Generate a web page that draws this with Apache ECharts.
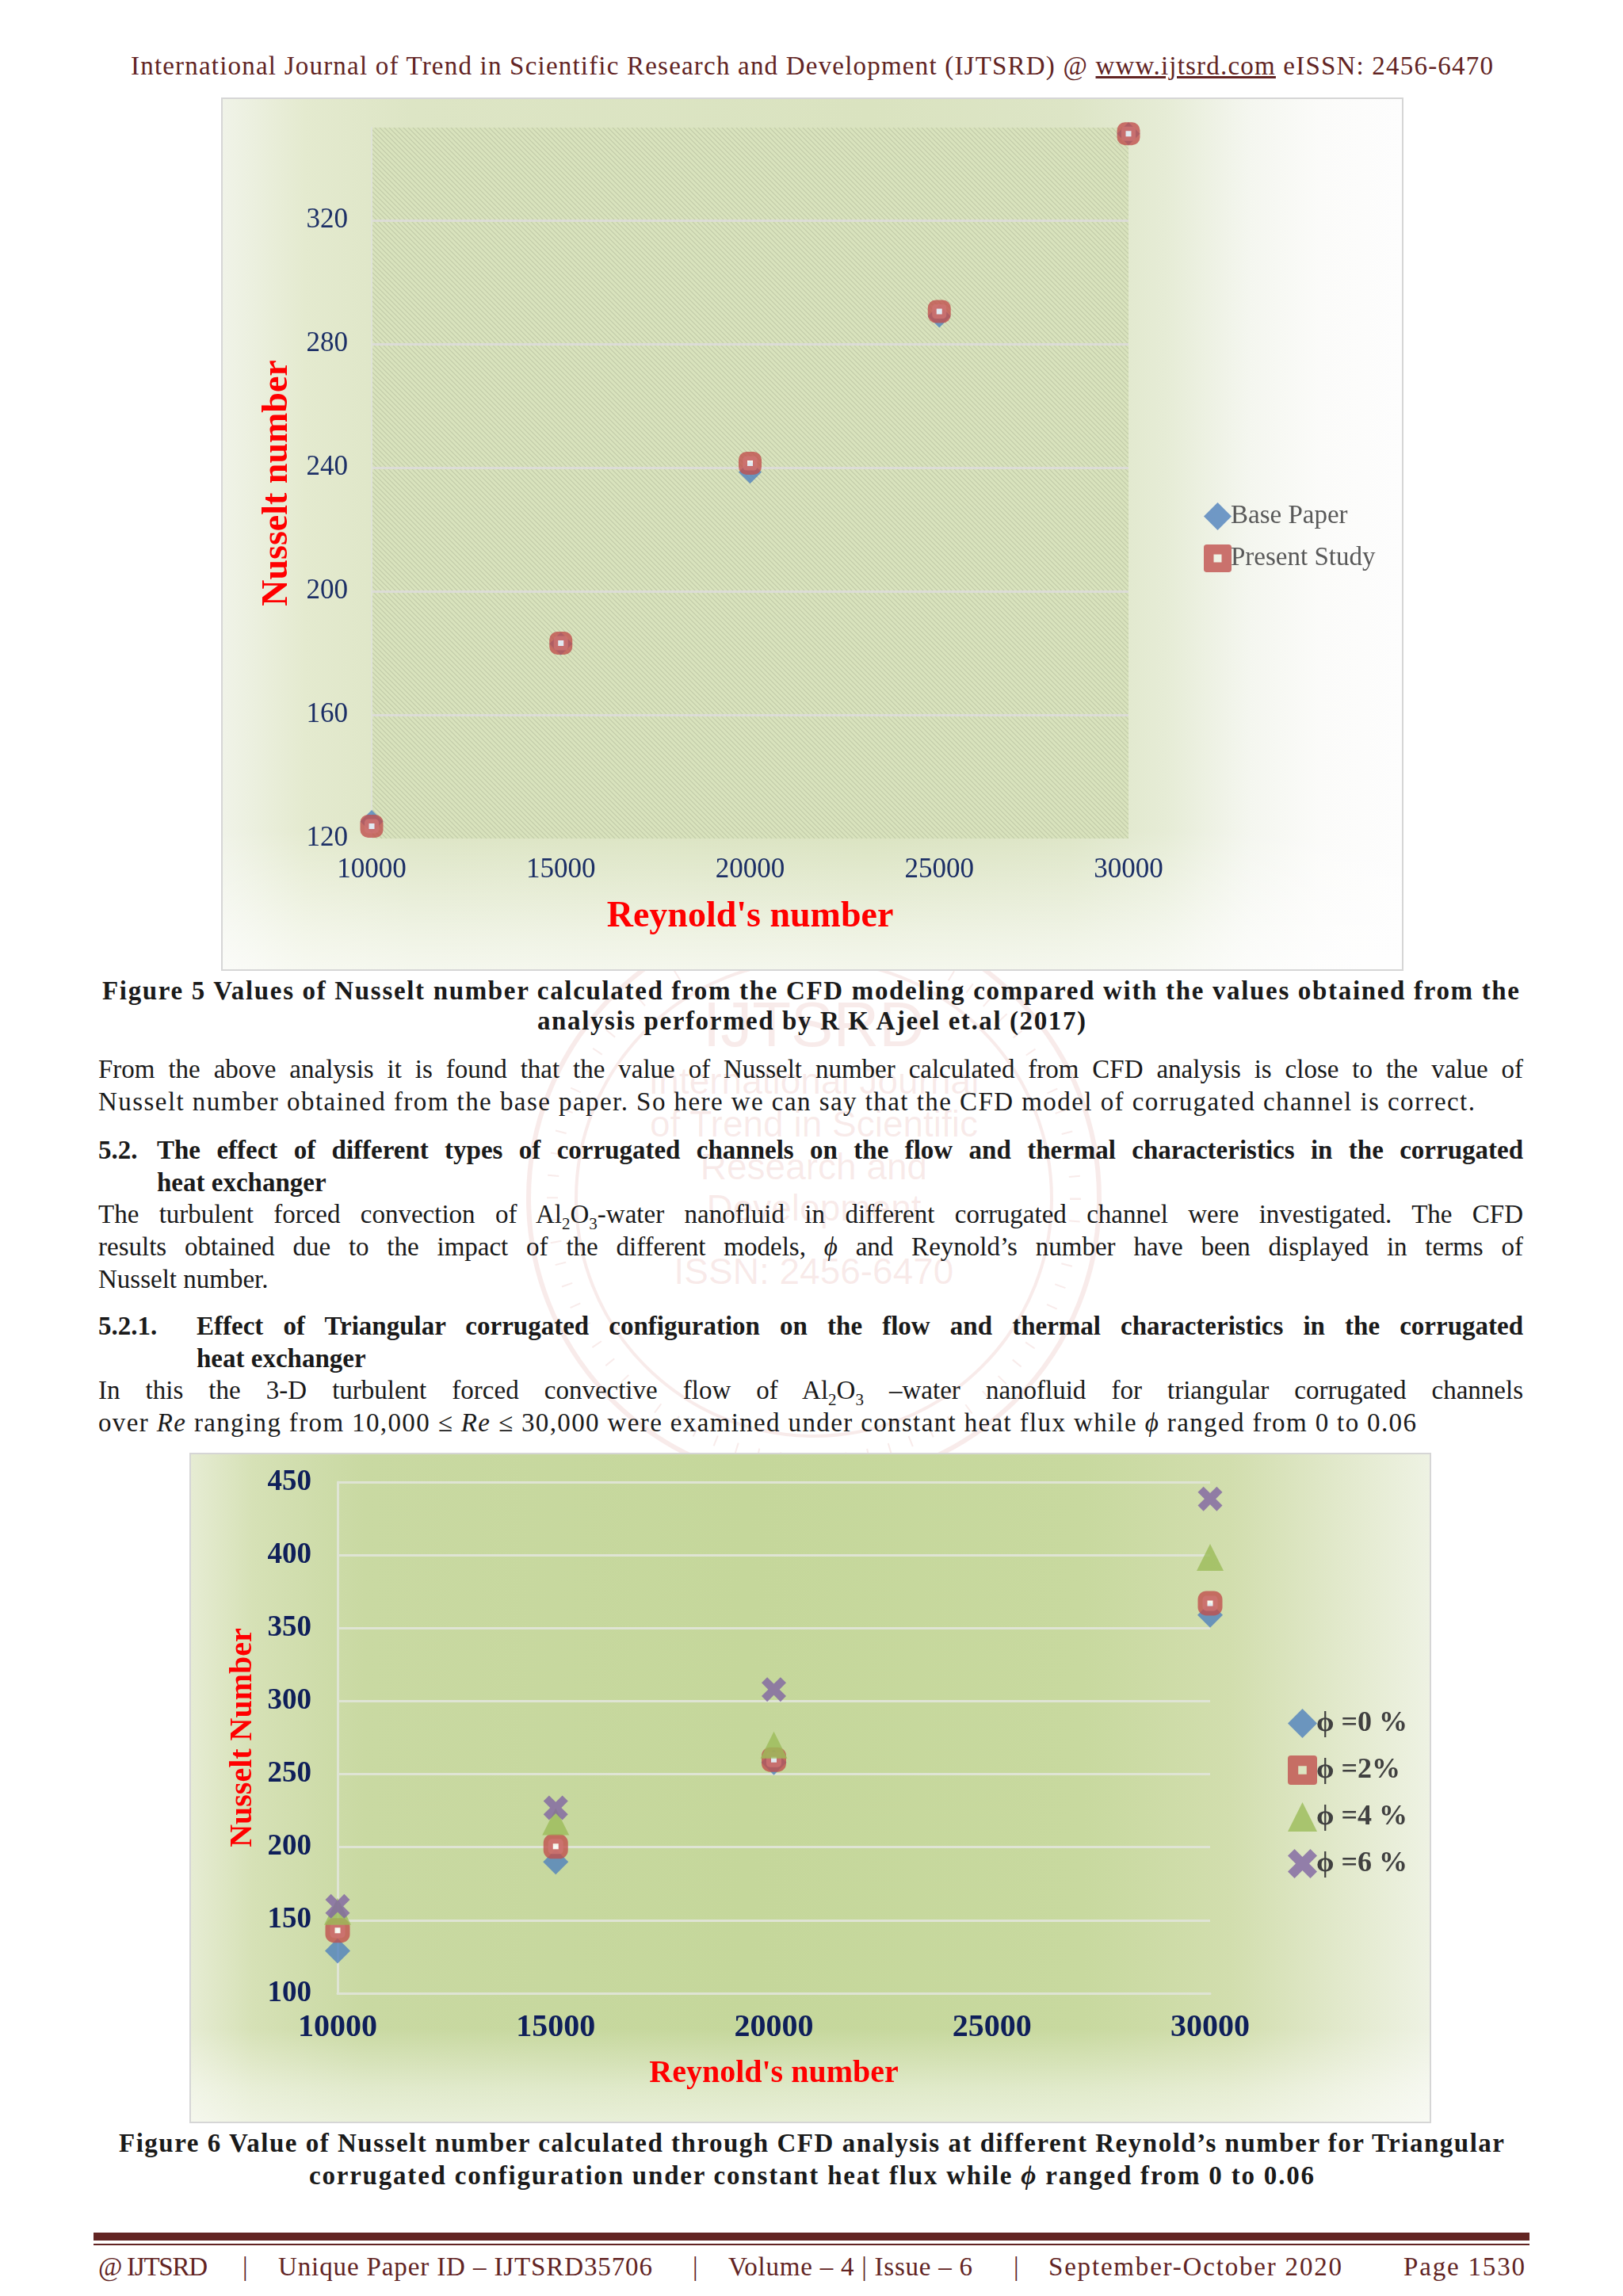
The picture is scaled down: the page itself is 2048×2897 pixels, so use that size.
<!DOCTYPE html>
<html>
<head>
<meta charset="utf-8">
<script src="https://cdn.jsdelivr.net/npm/echarts@6/dist/echarts.min.js"></script>
<style>
html,body{margin:0;padding:0;background:#fff;}
body{width:2048px;height:2897px;position:relative;overflow:hidden;font-family:"Liberation Serif","Times New Roman",serif;color:#1a1a1a;}
.ln{position:absolute;white-space:nowrap;font-size:33px;line-height:40px;height:40px;}
.b{font-weight:bold;}
.hdr{color:#622423;}
.frame{position:absolute;box-sizing:border-box;border:2px solid #d6d6d6;}
#c1{left:279px;top:123px;width:1492px;height:1102px;
 background:
  linear-gradient(to bottom, rgba(255,255,255,0) 0%, rgba(255,255,255,0) 84%, rgba(255,255,255,0.55) 96%, rgba(255,255,255,0.7) 100%),
  linear-gradient(to right,#f0f3e8 0%,#e4eacf 7%,#dde5c5 16%,#dae3c0 55%,#dde5c6 72%,#e6ecd6 80%,#f4f6ef 87%,#fbfbf9 93%,#fdfdfd 100%);}
#c2{left:239px;top:1833px;width:1567px;height:846px;
 background:
  linear-gradient(to bottom, rgba(255,255,255,0) 0%, rgba(255,255,255,0) 86%, rgba(255,255,255,0.45) 95%, rgba(255,255,255,0.6) 100%),
  linear-gradient(to right,#e6ecd3 0%,#d6e1b6 5%,#c9d9a2 14%,#c5d79b 45%,#c8d99f 72%,#d2deae 84%,#e2e9cc 93%,#eef2e3 100%);}
.chart{position:absolute;left:0;top:0;width:100%;height:100%;}
.rule{position:absolute;background:#632523;}
</style>
</head>
<body>
<!-- faint watermark -->
<svg style="position:absolute;left:0;top:0" width="2048" height="2897">
 <g fill="none" stroke="rgba(200,90,80,0.12)">
  <circle cx="1027" cy="1512" r="360" stroke-width="6"/>
  <circle cx="1027" cy="1512" r="300" stroke-width="4"/>
  <circle cx="1027" cy="1512" r="330" stroke-width="14" stroke-dasharray="2 26"/>
 </g>
 <g fill="rgba(200,90,80,0.12)" font-family="Liberation Sans, Arial, sans-serif" text-anchor="middle">
  <text x="1027" y="1320" font-size="80">IJTSRD</text>
  <text x="1027" y="1380" font-size="46">International Journal</text>
  <text x="1027" y="1434" font-size="46">of Trend in Scientific</text>
  <text x="1027" y="1488" font-size="46">Research and</text>
  <text x="1027" y="1540" font-size="46">Development</text>
  <text x="1027" y="1620" font-size="46">ISSN: 2456-6470</text>
 </g>
</svg>

<div class="ln hdr" data-x="165" data-y="83" data-w="1719" data-m="letter">International Journal of Trend in Scientific Research and Development (IJTSRD) @ <span style="text-decoration:underline">www.ijtsrd.com</span> eISSN: 2456-6470</div>

<div class="frame" id="c1"><div class="chart" id="chart1"></div></div>

<div class="ln b" data-x="129" data-y="1250" data-w="1788" data-m="letter">Figure 5 Values of Nusselt number calculated from the CFD modeling compared with the values obtained from the</div>
<div class="ln b" data-x="678" data-y="1288" data-w="692" data-m="letter">analysis performed by R K Ajeel et.al (2017)</div>

<div class="ln" data-x="124" data-y="1349" data-w="1798" data-m="word">From the above analysis it is found that the value of Nusselt number calculated from CFD analysis is close to the value of</div>
<div class="ln" data-x="124" data-y="1390" data-w="1737" data-m="letter">Nusselt number obtained from the base paper. So here we can say that the CFD model of corrugated channel is correct.</div>

<div class="ln b" data-x="124" data-y="1451">5.2.</div>
<div class="ln b" data-x="198" data-y="1451" data-w="1724" data-m="word">The effect of different types of corrugated channels on the flow and thermal characteristics in the corrugated</div>
<div class="ln b" data-x="198" data-y="1492">heat exchanger</div>

<div class="ln" data-x="124" data-y="1532" data-w="1798" data-m="word">The turbulent forced convection of Al<sub style="font-size:21px">2</sub>O<sub style="font-size:21px">3</sub>-water nanofluid in different corrugated channel were investigated. The CFD</div>
<div class="ln" data-x="124" data-y="1573" data-w="1798" data-m="word">results obtained due to the impact of the different models, <i>ϕ</i> and Reynold’s number have been displayed in terms of</div>
<div class="ln" data-x="124" data-y="1614">Nusselt number.</div>

<div class="ln b" data-x="124" data-y="1673">5.2.1.</div>
<div class="ln b" data-x="248" data-y="1673" data-w="1674" data-m="word">Effect of Triangular corrugated configuration on the flow and thermal characteristics in the corrugated</div>
<div class="ln b" data-x="248" data-y="1714">heat exchanger</div>

<div class="ln" data-x="124" data-y="1754" data-w="1798" data-m="word">In this the 3-D turbulent forced convective flow of Al<sub style="font-size:21px">2</sub>O<sub style="font-size:21px">3</sub> –water nanofluid for triangular corrugated channels</div>
<div class="ln" data-x="124" data-y="1795" data-w="1663" data-m="letter">over <i>Re</i> ranging from 10,000 ≤ <i>Re</i> ≤ 30,000 were examined under constant heat flux while <i>ϕ</i> ranged from 0 to 0.06</div>

<div class="frame" id="c2"><div class="chart" id="chart2"></div></div>

<div class="ln b" data-x="150" data-y="2704" data-w="1748" data-m="letter">Figure 6 Value of Nusselt number calculated through CFD analysis at different Reynold’s number for Triangular</div>
<div class="ln b" data-x="390" data-y="2745" data-w="1268" data-m="letter">corrugated configuration under constant heat flux while <i>ϕ</i> ranged from 0 to 0.06</div>

<div class="rule" style="left:118px;top:2817px;width:1812px;height:10px"></div>
<div class="rule" style="left:118px;top:2831px;width:1812px;height:2px"></div>

<div class="ln hdr" data-x="124" data-y="2860" data-w="138" data-m="letter">@ IJTSRD</div>
<div class="ln hdr" data-x="306" data-y="2860">|</div>
<div class="ln hdr" data-x="351" data-y="2860" data-w="472" data-m="letter">Unique Paper ID – IJTSRD35706</div>
<div class="ln hdr" data-x="874" data-y="2860">|</div>
<div class="ln hdr" data-x="919" data-y="2860" data-w="308" data-m="letter">Volume – 4 | Issue – 6</div>
<div class="ln hdr" data-x="1279" data-y="2860">|</div>
<div class="ln hdr" data-x="1323" data-y="2860" data-w="370" data-m="letter">September-October 2020</div>
<div class="ln hdr" data-x="1771" data-y="2860" data-w="153" data-m="letter">Page 1530</div>

<script>
// ---------------- DATA ----------------
// Figure 5
const fig5Reynolds = [10000, 15000, 20000, 25000, 30000];
const fig5BasePaper = [125.5, 183, 238.5, 289, 348];
const fig5PresentStudy = [124, 183.2, 241.4, 290.5, 348];
const fig5SeriesNames = ['Base Paper', 'Present Study'];
// Figure 6
const fig6Reynolds = [10000, 15000, 20000, 30000];
const fig6Phi0 = [129, 190, 258, 359];
const fig6Phi2 = [143, 200.5, 260, 367];
const fig6Phi4 = [156, 217.5, 270, 398.5];
const fig6Phi6 = [159.5, 227, 308, 438.5];
const fig6SeriesNames = ['ϕ =0 %', 'ϕ =2%', 'ϕ =4 %', 'ϕ =6 %'];

// ---------------- TEXT LAYOUT ----------------
function placeLines(){
  document.querySelectorAll('.ln').forEach(el=>{
    el.style.left = el.dataset.x + 'px';
    el.style.top = (+el.dataset.y - 20) + 'px';
    el.style.letterSpacing = '0px';
    el.style.wordSpacing = '0px';
    const w = +el.dataset.w;
    if(!w) return;
    const nat = el.getBoundingClientRect().width;
    const txt = el.textContent;
    if(el.dataset.m === 'word'){
      const n = (txt.match(/ /g)||[]).length;
      if(n>0) el.style.wordSpacing = ((w-nat)/n) + 'px';
    } else {
      const n = txt.length - 1;
      if(n>0) el.style.letterSpacing = ((w-nat)/n) + 'px';
    }
  });
}
placeLines();
if(document.fonts && document.fonts.ready) document.fonts.ready.then(placeLines);

function zip(xs, ys){ return xs.map((x,i)=>[x, ys[i]]); }

// hatch pattern for figure 5 plot area
const hatch = document.createElement('canvas');
hatch.width = 6; hatch.height = 6;
(function(){
  const g = hatch.getContext('2d');
  g.fillStyle = '#d9e3bd'; g.fillRect(0,0,6,6);
  g.strokeStyle = '#c0c9a8'; g.lineWidth = 1.1;
  g.beginPath();
  g.moveTo(-1,-1); g.lineTo(7,7);
  g.moveTo(-1,5); g.lineTo(1,7);
  g.moveTo(5,-1); g.lineTo(7,1);
  g.stroke();
})();

const FONT = 'Liberation Serif';
const RED = '#C0504D', BLUE = '#4F81BD', GREEN = '#9BBB59', PURPLE = '#8064A2';
const XPATH = 'path://M2.3,0L5,2.7L7.7,0L10,2.3L7.3,5L10,7.7L7.7,10L5,7.3L2.3,10L0,7.7L2.7,5L0,2.3Z';
const SQ_HOLE = 'path://M3,0H25Q28,0 28,3V25Q28,28 25,28H3Q0,28 0,25V3Q0,0 3,0ZM10,10V18H18V10Z';
const plainNum = v => String(v);

// ---------------- FIGURE 5 ----------------
const chart1 = echarts.init(document.getElementById('chart1'), null, {renderer:'canvas'});
chart1.setOption({
  backgroundColor: 'transparent',
  animation: false,
  grid: {left: 188, right: 345, top: 36, bottom: 165, show: true, borderWidth: 0,
         backgroundColor: {image: hatch, repeat: 'repeat'}},
  legend: {
    orient: 'vertical', left: 1233, top: 504, itemWidth: 35, itemHeight: 35, itemGap: 18,
    itemStyle: {borderWidth: 0},
    textStyle: {fontFamily: FONT, fontSize: 33, color: '#595959', padding: [0,0,0,-6]},
    data: [
      {name: fig5SeriesNames[0], icon: 'diamond'},
      {name: fig5SeriesNames[1], icon: SQ_HOLE, itemStyle: {color: RED, borderWidth: 0}}
    ]
  },
  xAxis: {
    type: 'value', min: 10000, max: 30000, interval: 5000,
    axisLine: {show: false}, axisTick: {show: false}, splitLine: {show: false},
    axisLabel: {fontFamily: FONT, fontSize: 35, color: '#1c2f66', margin: 22, formatter: plainNum},
    name: "Reynold's number", nameLocation: 'middle', nameGap: 76,
    nameTextStyle: {fontFamily: FONT, fontSize: 46, fontWeight: 'bold', color: '#FF0000'}
  },
  yAxis: {
    type: 'value', min: 120, max: 350, interval: 40,
    axisLine: {show: true, lineStyle: {color: '#dfe3d6', width: 2}}, axisTick: {show: false},
    splitLine: {show: true, showMinLine: false, showMaxLine: false, lineStyle: {color: '#dcdcd6', width: 3}},
    axisLabel: {fontFamily: FONT, fontSize: 35, color: '#1c2f66', margin: 30, showMaxLabel: false, formatter: plainNum},
    name: 'Nusselt number', nameLocation: 'middle', nameGap: 96, nameRotate: 90,
    nameTextStyle: {fontFamily: FONT, fontSize: 46, fontWeight: 'bold', color: '#FF0000'}
  },
  series: [
    {name: fig5SeriesNames[0], type: 'scatter', symbol: 'diamond', symbolSize: 29,
     itemStyle: {color: BLUE}, data: zip(fig5Reynolds, fig5BasePaper)},
    {name: fig5SeriesNames[1], type: 'scatter', symbol: 'roundRect', symbolSize: 18,
     itemStyle: {color: '#ffffff', borderColor: RED, borderWidth: 11}, data: zip(fig5Reynolds, fig5PresentStudy)}
  ]
});

// ---------------- FIGURE 6 ----------------
const chart2 = echarts.init(document.getElementById('chart2'), null, {renderer:'canvas'});
chart2.setOption({
  backgroundColor: 'transparent',
  animation: false,
  grid: {left: 185, right: 277, top: 35, bottom: 162},
  legend: {
    orient: 'vertical', left: 1379, top: 316, itemWidth: 37, itemHeight: 37, itemGap: 22,
    itemStyle: {borderWidth: 0},
    textStyle: {fontFamily: FONT, fontSize: 36, fontWeight: 'bold', color: '#404040', padding: [0,0,0,-6]},
    data: [
      {name: fig6SeriesNames[0], icon: 'diamond'},
      {name: fig6SeriesNames[1], icon: SQ_HOLE, itemStyle: {color: RED, borderWidth: 0}},
      {name: fig6SeriesNames[2], icon: 'triangle'},
      {name: fig6SeriesNames[3], icon: XPATH}
    ]
  },
  xAxis: {
    type: 'value', min: 10000, max: 30000, interval: 5000,
    axisLine: {show: true, lineStyle: {color: '#dfe4d4', width: 3}}, axisTick: {show: false}, splitLine: {show: false},
    axisLabel: {fontFamily: FONT, fontSize: 40, fontWeight: 'bold', color: '#0f1f5a', margin: 24, formatter: plainNum},
    name: "Reynold's number", nameLocation: 'middle', nameGap: 82,
    nameTextStyle: {fontFamily: FONT, fontSize: 40, fontWeight: 'bold', color: '#FF0000'}
  },
  yAxis: {
    type: 'value', min: 100, max: 450, interval: 50,
    axisLine: {show: true, lineStyle: {color: '#dfe4d4', width: 3}}, axisTick: {show: false},
    splitLine: {show: true, lineStyle: {color: '#dfe4d4', width: 3}},
    axisLabel: {fontFamily: FONT, fontSize: 37, fontWeight: 'bold', color: '#0f1f5a', margin: 33, formatter: plainNum},
    name: 'Nusselt Number', nameLocation: 'middle', nameGap: 98, nameRotate: 90,
    nameTextStyle: {fontFamily: FONT, fontSize: 40, fontWeight: 'bold', color: '#FF0000'}
  },
  series: [
    {name: fig6SeriesNames[0], type: 'scatter', symbol: 'diamond', symbolSize: 32,
     itemStyle: {color: BLUE}, data: zip(fig6Reynolds, fig6Phi0)},
    {name: fig6SeriesNames[1], type: 'scatter', symbol: 'roundRect', symbolSize: 19,
     itemStyle: {color: '#ffffff', borderColor: RED, borderWidth: 12}, data: zip(fig6Reynolds, fig6Phi2)},
    {name: fig6SeriesNames[2], type: 'scatter', symbol: 'triangle', symbolSize: 34,
     itemStyle: {color: GREEN}, data: zip(fig6Reynolds, fig6Phi4)},
    {name: fig6SeriesNames[3], type: 'scatter', symbol: XPATH, symbolSize: 31, symbolKeepAspect: true,
     itemStyle: {color: PURPLE}, data: zip(fig6Reynolds, fig6Phi6)}
  ]
});
</script>
</body>
</html>
